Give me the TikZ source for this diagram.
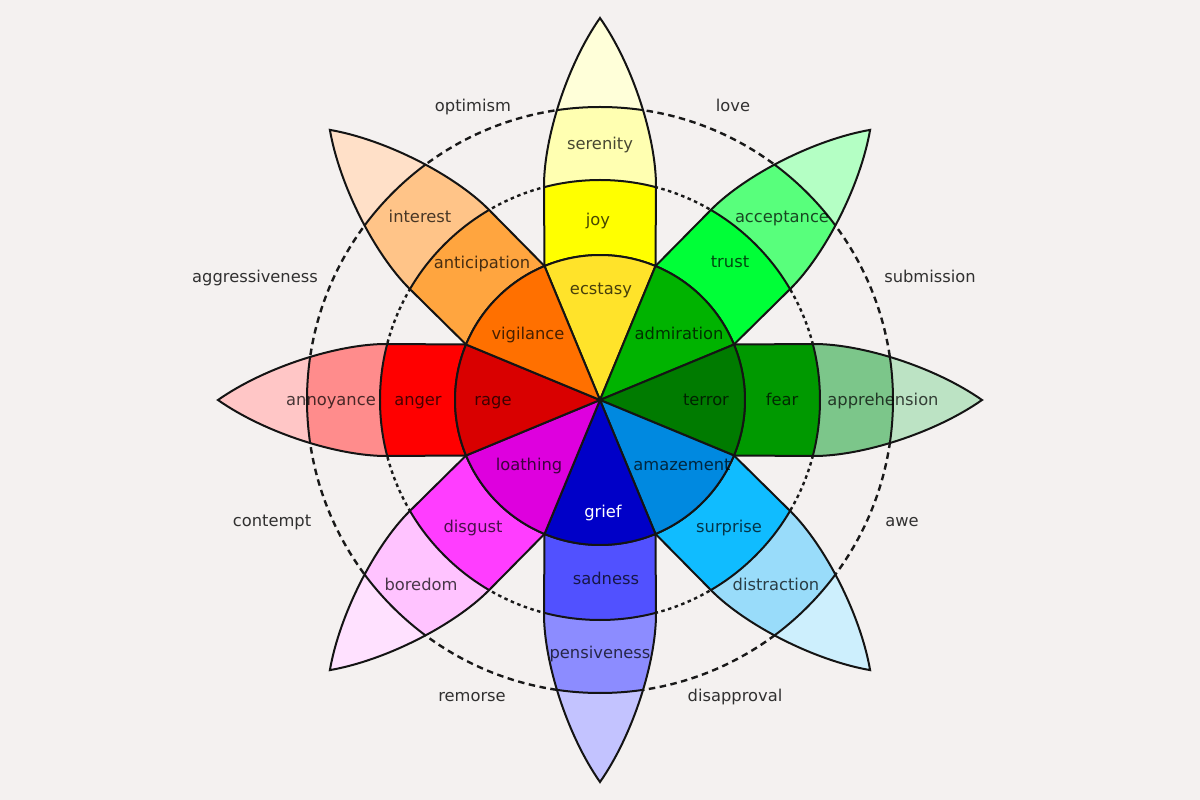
\documentclass[tikz,border=0pt]{standalone}
\usepackage{fontspec}
\setmainfont{DejaVu Sans}
\definecolor{bg}{HTML}{F4F1F0}
\definecolor{joyT}{HTML}{FFFFD9}\definecolor{joyO}{HTML}{FFFFB1}\definecolor{joyM}{HTML}{FFFF00}\definecolor{joyS}{HTML}{FFE32A}
\definecolor{truT}{HTML}{B4FFC4}\definecolor{truO}{HTML}{58FF7C}\definecolor{truM}{HTML}{00FF37}\definecolor{truS}{HTML}{00B300}
\definecolor{feaT}{HTML}{BCE3C4}\definecolor{feaO}{HTML}{7CC68A}\definecolor{feaM}{HTML}{009900}\definecolor{feaS}{HTML}{007B00}
\definecolor{surT}{HTML}{CDEFFD}\definecolor{surO}{HTML}{99DCFA}\definecolor{surM}{HTML}{10BCFF}\definecolor{surS}{HTML}{0089E0}
\definecolor{sadT}{HTML}{C3C3FF}\definecolor{sadO}{HTML}{8C8CFF}\definecolor{sadM}{HTML}{5151FF}\definecolor{sadS}{HTML}{0000C8}
\definecolor{disT}{HTML}{FFE1FF}\definecolor{disO}{HTML}{FFC3FF}\definecolor{disM}{HTML}{FF3DFF}\definecolor{disS}{HTML}{DE00DE}
\definecolor{angT}{HTML}{FFC6C6}\definecolor{angO}{HTML}{FF8C8C}\definecolor{angM}{HTML}{FF0000}\definecolor{angS}{HTML}{D90000}
\definecolor{antT}{HTML}{FFE0C8}\definecolor{antO}{HTML}{FFC488}\definecolor{antM}{HTML}{FFA53F}\definecolor{antS}{HTML}{FF7000}
\tikzset{
  petalpath/.style={insert path={(133.96,55.49) -- (214,56) .. controls (262,56) and (335,33) .. (382,0) .. controls (335,-33) and (262,-56) .. (214,-56) -- (133.96,-55.49) arc[start angle=-22.5, end angle=22.5, radius=145] -- cycle}},
  outline/.style={draw=black!92, line width=2pt},
  lbl/.style={inner sep=0pt, text height=11pt, text depth=0pt, font=\fontsize{16.3}{19}\selectfont, text=black, text opacity=0.72},
  outer/.style={lbl, text opacity=0.8},
  dashA/.style={draw=black!90, line width=2.4pt, dash pattern=on 6.5pt off 4.5pt},
  dashB/.style={draw=black!90, line width=2.4pt, dash pattern=on 3.5pt off 3.5pt},
}
\newcommand{\petal}[5]{%
  \begin{scope}[rotate=#1]
    \fill[#2, petalpath];
    \begin{scope}
      \clip[petalpath];
      \fill[#3] (0,0) circle[radius=293];
      \fill[#4] (0,0) circle[radius=220];
      \draw[outline] (0,0) circle[radius=293] (0,0) circle[radius=220];
    \end{scope}
    \draw[outline, petalpath];
  \end{scope}
  \filldraw[outline, fill=#5] (0,0) -- (#1-22.5:145) arc[start angle=#1-22.5, end angle=#1+22.5, radius=145] -- cycle;
}
\begin{document}
\begin{tikzpicture}[x=1pt, y=1pt]
\fill[bg] (-600,-400) rectangle (600,400);
\useasboundingbox (-600,-400) rectangle (600,400);
\draw[dashA] (0,0) circle[radius=293];
\draw[dashB] (0,0) circle[radius=220];
\petal{90}{joyT}{joyO}{joyM}{joyS}
\petal{45}{truT}{truO}{truM}{truS}
\petal{0}{feaT}{feaO}{feaM}{feaS}
\petal{-45}{surT}{surO}{surM}{surS}
\petal{-90}{sadT}{sadO}{sadM}{sadS}
\petal{-135}{disT}{disO}{disM}{disS}
\petal{180}{angT}{angO}{angM}{angS}
\petal{135}{antT}{antO}{antM}{antS}
% labels
\node[lbl] (serenity) at (0,256) {serenity};
\node[lbl] (joy) at (-2,180) {joy};
\node[lbl] (ecstasy) at (1,111) {ecstasy};
\node[lbl] (interest) at (-180,183) {interest};
\node[lbl] (anticipation) at (-118,137) {anticipation};
\node[lbl] (vigilance) at (-72,66) {vigilance};
\node[lbl] (acceptance) at (182,183) {acceptance};
\node[lbl] (trust) at (130,138) {trust};
\node[lbl] (admiration) at (79,66) {admiration};
\node[lbl] (annoyance) at (-269,0) {annoyance};
\node[lbl] (anger) at (-182,0) {anger};
\node[lbl] (rage) at (-107,0) {rage};
\node[lbl] (terror) at (106,0) {terror};
\node[lbl] (fear) at (182,0) {fear};
\node[lbl] (apprehension) at (283,0) {apprehension};
\node[lbl] (loathing) at (-71,-65) {loathing};
\node[lbl] (disgust) at (-127,-127) {disgust};
\node[lbl] (boredom) at (-179,-185) {boredom};
\node[lbl] (amazement) at (82,-65) {amazement};
\node[lbl] (surprise) at (129,-127) {surprise};
\node[lbl] (distraction) at (176,-185) {distraction};
\node[lbl, text=white, text opacity=1] (grief) at (3,-112) {grief};
\node[lbl] (sadness) at (6,-179) {sadness};
\node[lbl] (pensiveness) at (0,-253) {pensiveness};
\node[outer] (optimism) at (-127,294) {optimism};
\node[outer] (love) at (133,294) {love};
\node[outer] (aggressiveness) at (-345,123) {aggressiveness};
\node[outer] (submission) at (330,123) {submission};
\node[outer] (contempt) at (-328,-121) {contempt};
\node[outer] (awe) at (302,-121) {awe};
\node[outer] (remorse) at (-128,-296) {remorse};
\node[outer] (disapproval) at (135,-296) {disapproval};
\end{tikzpicture}
\end{document}
